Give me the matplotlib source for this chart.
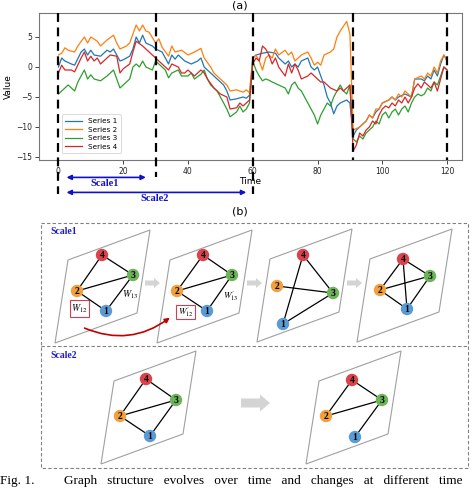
import numpy as np
import matplotlib
matplotlib.use("Agg")
import matplotlib.pyplot as plt
from matplotlib.patches import Polygon, Circle, Rectangle, FancyArrow, FancyArrowPatch

plt.rcParams['mathtext.fontset'] = 'stix'

# ---------------- data (panel a) ----------------
series_names = ["Series 1", "Series 2", "Series 3", "Series 4"]
series_colors = ["#1f77b4", "#ff7f0e", "#2ca02c", "#d62728"]

s1 = [(0,0),(1,1.5),(2,1),(4,0.5),(5,0.3),(7,2.5),(8,3),(9,2),(10,2.8),(11,2),(13,1.8),(15,2.8),(16,2.5),(17,3),(19,1),(20,1.2),(22,1.8),(23,3),(24,5),(25,4),(26,5.3),(27,4),(29,3.5),(30,3),
      (32,2.5),(33,1.5),(34,0.5),(35,2),(36,1.3),(37,2),(39,1),(41,0.5),(43,1),(44,1.5),(45,0),(47,-1),(49,-2),(51,-3),(52,-4),(53,-5.5),(55,-5.3),(57,-5),(58,-5.2),(59,-4.7),
      (60,1.5),(61,2),(63,2.3),(65,2.5),(67,2.3),(68,1.5),(69,1),(70,0.5),(71,1),(72,0),(73,0.5),(74,0),(75,1),(77,1.5),(78,0),(79,-0.5),(80,0),(81,-1.5),(82,-3),(83,-5),(84,-6),(85,-7.8),(86,-6.5),(87,-6),(89,-5.5),(90,-6),
      (91,-11.5),(92,-10.5),(93,-10),(95,-9),(96,-8),(97,-8.5),(98,-7.5),(99,-7),(100,-6),(102,-5.5),(103,-5),(104,-5.5),(105,-5),(107,-4.5),(109,-5),(110,-2),(112,-2),(113,-2.3),(114,-1.5),(115,-2),(116,-0.5),(117,-1.5),(118,0.5),(119,2),(120,1)]
s2 = [(0,2),(1,2.3),(2,3.2),(3,2.8),(5,2.5),(6,3.5),(8,5),(9,4),(10,5),(12,4.3),(13,3.5),(15,4.5),(17,5.3),(18,4),(19,3),(21,3.5),(22,4),(23,5.5),(24,7),(25,6),(26,7),(27,6),(28,5.8),(30,4),
      (31,4.7),(32,3.3),(34,1.8),(35,3.5),(36,2.5),(38,2.8),(40,2),(42,2.5),(44,3.1),(45,1.5),(47,0),(48,-1),(50,-2),(52,-3),(53,-4),(55,-3.8),(57,-4.2),(58,-3.8),(59,-4.3),
      (60,1.5),(61,2),(62,1),(63,-0.5),(64,1.5),(65,2),(66,1.5),(67,3),(68,2),(70,2.8),(71,2),(72,2.5),(73,1),(75,2),(77,2.5),(78,1.5),(79,0.3),(80,0.8),(81,0.3),(82,2),(84,2.5),(85,3),(86,5),(87,6),(89,7.6),(90,5.5),
      (91,-10.5),(93,-10),(95,-9),(96,-8),(97,-8.5),(98,-7),(99,-7),(100,-6),(102,-5.5),(103,-5),(104,-5.5),(105,-4.5),(106,-5),(107,-4),(108,-4.5),(109,-5),(110,-2),(112,-1.5),(113,-2),(114,-1),(115,-1.5),(116,0),(117,-1),(118,1),(119,2),(120,1)]
s3 = [(0,-4.5),(2,-3.5),(3,-3),(4,-3.5),(5,-4),(6,-2.5),(7,-1.5),(8,-0.5),(9,-2),(10,-1.3),(11,-2),(13,-2.3),(15,-1.5),(17,-0.5),(18,-2),(19,-3.5),(20,-3),(21,-2.5),(22,-2),(23,0),(24,0.5),(25,0),(26,1),(27,0),(29,-0.5),(30,1),
      (31,0.5),(33,-0.5),(34,-1.8),(35,-1),(37,-0.5),(38,-1.5),(40,-1.5),(41,-1),(42,-2),(44,-1.2),(45,-0.5),(46,-2),(47,-3),(49,-4),(50,-5),(51,-6),(52,-7),(53,-8.3),(55,-7.5),(56,-6.5),(57,-7.5),(58,-7),(59,-6),
      (60,1),(61,-0.5),(62,-1.5),(63,-2.3),(64,-2),(65,-2.2),(66,-2.5),(68,-3),(70,-3.5),(71,-4.5),(72,-3),(73,-2.5),(74,-3.5),(75,-4),(76,-5),(77,-6),(78,-7),(79,-8),(80,-9.5),(81,-8),(82,-7),(83,-6),(84,-6.5),(85,-5),(86,-4),(87,-3),(88,-4),(89,-4.5),(90,-3),
      (91,-12),(92,-12.5),(93,-11.5),(94,-12),(95,-11),(96,-10.5),(97,-10),(98,-9),(99,-9.5),(100,-8),(101,-7.5),(102,-8.5),(103,-7.5),(104,-7),(105,-8),(106,-7),(107,-6.5),(108,-7.5),(109,-6),(110,-5),(111,-4.5),(112,-4.8),(113,-4.5),(114,-3.5),(115,-4),(116,-2.5),(117,-3),(118,-1.5),(119,0),(120,-0.5)]
s4 = [(0,-1),(1,0.3),(2,-0.5),(4,-0.5),(5,-0.8),(7,1.5),(8,2.5),(9,1),(10,1.8),(11,1),(12,1.5),(13,0.5),(15,1.5),(16,2),(18,1.8),(19,-1),(20,-0.3),(22,0.5),(23,2.5),(24,4.3),(26,3.5),(27,3),(28,2.5),(29,2),(30,1.5),
      (32,0.5),(33,0),(34,-0.5),(35,0.5),(37,0),(38,-1),(39,-1),(40,-0.5),(42,-1.5),(44,-0.5),(45,-1),(46,-2),(48,-3.5),(50,-4.5),(52,-5),(53,-7),(55,-6.8),(56,-6),(57,-6.5),(58,-6),(59,-5.5),
      (60,0.5),(61,1.5),(62,1),(63,3.5),(64,3),(65,2),(66,0.5),(67,1.5),(68,0),(70,-1.5),(71,0.5),(72,-1),(73,0.5),(74,-0.5),(75,-2),(77,-1.5),(78,-1),(80,-2),(81,-2.5),(82,-2.5),(83,-3),(84,-3.5),(86,-4),(87,-3.5),(88,-4),(89,-3.5),(90,-3),
      (91,-14),(92,-13),(93,-11),(94,-11.5),(95,-10.5),(96,-10),(97,-9),(98,-9.5),(99,-8),(100,-7),(101,-6.5),(102,-6.8),(103,-6),(104,-6.5),(105,-5.5),(106,-6),(107,-5),(108,-6),(109,-5),(110,-3.5),(111,-2.8),(112,-3.5),(113,-2.5),(114,-3),(115,-3.5),(116,-2.5),(117,-4),(118,-2),(119,0),(120,-0.5)]
series = [s1, s2, s3, s4]

change_points = [0, 30, 60, 91, 120]
xticks = [0, 20, 40, 60, 80, 100, 120]
yticks = [-15, -10, -5, 0, 5]
scale_labels = ["Scale1", "Scale2"]
scale_spans = [(2.5, 27), (2.5, 58)]

# ---------------- data (panel b diagram, pixel layout) ----------------
node_colors = {1: "#5b9bd5", 2: "#f2a03d", 3: "#6db35a", 4: "#d9434b"}
panel_corners = [(68, 260), (170, 260), (270, 259), (370, 259), (114, 381), (319, 381)]
graphs = [
    {1: (106, 311), 2: (77, 291), 3: (133, 275), 4: (102, 255)},
    {1: (207, 311), 2: (177, 291), 3: (232, 275), 4: (203, 255)},
    {1: (283, 324), 2: (277, 286), 3: (333, 293), 4: (303, 255)},
    {1: (407, 309), 2: (380, 290), 3: (430, 276), 4: (403, 259)},
    {1: (150, 436), 2: (120, 416), 3: (176, 400), 4: (146, 379)},
    {1: (355, 437), 2: (326, 416), 3: (382, 400), 4: (352, 380)},
]
graph_edges = [
    [(4, 2), (4, 3), (2, 3), (2, 1), (3, 1)],
    [(4, 2), (4, 3), (2, 3), (2, 1), (3, 1)],
    [(4, 1), (4, 3), (2, 3), (1, 3)],
    [(4, 2), (4, 3), (4, 1), (2, 3), (2, 1), (3, 1)],
    [(4, 2), (4, 3), (2, 3), (2, 1), (3, 1)],
    [(4, 2), (4, 3), (2, 3), (3, 1)],
]

# ---------------- figure ----------------
fig = plt.figure(figsize=(4.74, 4.88), dpi=100)
ax = fig.add_axes([39/474, 1-160/488, 423/474, 147/488])

for s, name, c in zip(series, series_names, series_colors):
    t = [p[0] for p in s]
    v = [p[1] for p in s]
    ax.plot(t, v, color=c, lw=0.9, label=name)

ax.set_xlim(-6, 124.6)
ax.set_ylim(-15.5, 9.0)
ax.set_xticks(xticks)
ax.set_yticks(yticks)
ax.tick_params(labelsize=5.5, length=3, width=0.6, pad=2, colors="#222222")
for sp in ax.spines.values():
    sp.set_color("#777777")
    sp.set_linewidth(0.8)
ax.set_xlabel("Time", fontsize=6.5, labelpad=0)
ax.xaxis.set_label_coords(0.5, -0.115)
ax.set_ylabel("Value", fontsize=6.5, labelpad=2)

bottoms = [-21.1, -18.4, -21.1, -15.5, -15.5]
for cp, b in zip(change_points, bottoms):
    ax.plot([cp, cp], [9.0, b], color="black", lw=1.6, ls=(0, (4, 2.5)), clip_on=False, zorder=5)

leg = ax.legend(loc="lower left", bbox_to_anchor=(0.045, 0.02), fontsize=5.2, frameon=True,
                handlelength=2.3, borderpad=0.5, labelspacing=0.35, fancybox=True, framealpha=1)
leg.get_frame().set_linewidth(0.5)

ylevels = [-18.4, -20.9]
for (a, b), lab, yl in zip(scale_spans, scale_labels, ylevels):
    ax.annotate("", xy=(b, yl), xytext=(a, yl), annotation_clip=False,
                arrowprops=dict(arrowstyle="<|-|>", color="#1010c8", lw=1.2,
                                mutation_scale=7, shrinkA=0, shrinkB=0))
    ax.text((a + b) / 2 - 0.5, yl - 1.0, lab, color="#1010c8", fontsize=7.5, fontweight="bold",
            family="Liberation Serif", ha="center", va="center", clip_on=False)

fig.text(240/474, 1-5/488, "(a)", ha="center", va="center", fontsize=8)
fig.text(240/474, 1-212/488, "(b)", ha="center", va="center", fontsize=8)

# ---------------- diagram overlay ----------------
ov = fig.add_axes([0, 0, 1, 1])
ov.set_xlim(0, 474)
ov.set_ylim(488, 0)
ov.axis("off")

ov.add_patch(Rectangle((41, 223), 427, 245, fill=False, ec="#808080", lw=0.8, ls=(0, (3, 2))))
ov.plot([41, 468], [346, 346], color="#808080", lw=0.8, ls=(0, (3, 2)))
ov.text(50, 232, "Scale1", color="#1a1acc", fontsize=7, fontweight="bold",
        family="Liberation Serif", va="center", ha="left")
ov.text(50, 356, "Scale2", color="#1a1acc", fontsize=7, fontweight="bold",
        family="Liberation Serif", va="center", ha="left")

u = np.array([82, -30])
w = np.array([-13, 83])
for (x0, y0) in panel_corners:
    p0 = np.array([x0, y0])
    ov.add_patch(Polygon([p0, p0 + u, p0 + u + w, p0 + w], closed=True, fill=False,
                         ec="#a0a0a0", lw=0.8))

for nodes, edges in zip(graphs, graph_edges):
    for a, b in edges:
        ov.plot([nodes[a][0], nodes[b][0]], [nodes[a][1], nodes[b][1]], color="black", lw=0.9, zorder=3)
    for k, (x, y) in nodes.items():
        ov.add_patch(Circle((x, y), 5.5, color=node_colors[k], zorder=4))
        ov.text(x, y + 0.5, str(k), ha="center", va="center", fontsize=7, fontweight="bold",
                family="Liberation Serif", zorder=5)

# block arrows
for (x0, y0) in [(145, 283), (247, 283), (347, 283)]:
    ov.add_patch(FancyArrow(x0, y0, 15, 0, width=5, head_width=10, head_length=6,
                            length_includes_head=True, color="#d4d4d4", lw=0))
ov.add_patch(FancyArrow(241, 403, 29, 0, width=9, head_width=17, head_length=10,
                        length_includes_head=True, color="#d4d4d4", lw=0))

# weight labels
ov.add_patch(Rectangle((70, 300), 19, 17, fill=False, ec="#d04050", lw=0.8))
ov.text(79.5, 308.5, r"$W_{12}$", ha="center", va="center", fontsize=7)
ov.text(130, 294.5, r"$W_{13}$", ha="center", va="center", fontsize=7)
ov.add_patch(Rectangle((176.5, 305), 18.5, 14, fill=False, ec="#d04050", lw=0.8))
ov.text(186, 312, r"$W_{12}^{\prime}$", ha="center", va="center", fontsize=6.5)
ov.text(230.5, 296, r"$W_{13}^{\prime}$", ha="center", va="center", fontsize=6.5)
ov.add_patch(FancyArrowPatch((82, 327), (172, 316), connectionstyle="arc3,rad=0.3",
                             arrowstyle="-|>", mutation_scale=7, color="#c00000", lw=1.2))

# caption
fig.text(0, 1-487/488, "Fig. 1.", ha="left", va="bottom", fontsize=9.5, family="Liberation Serif")
fig.text(64/474, 1-487/488, "Graph   structure   evolves   over   time   and   changes   at   different   time",
         ha="left", va="bottom", fontsize=9.5, family="Liberation Serif")

fig.savefig("out.png", dpi=100)
